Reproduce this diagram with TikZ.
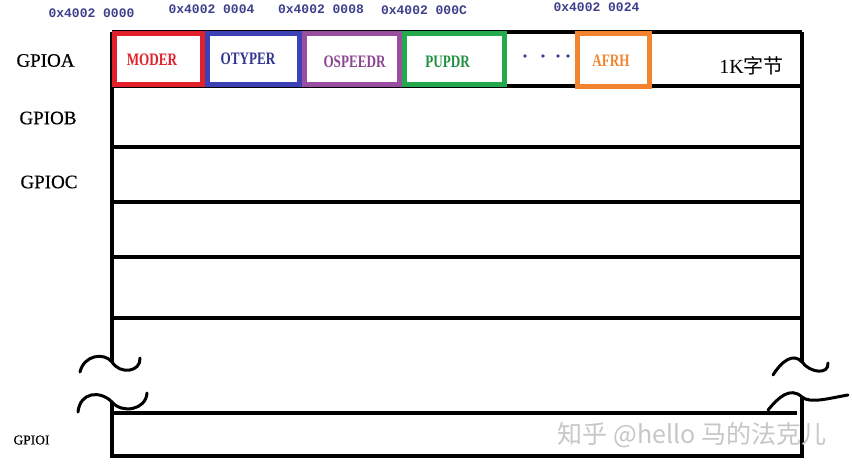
\documentclass[tikz,border=0pt]{standalone}
\usepackage{fontspec}
\setmainfont{Liberation Serif}
\newfontfamily\regfont[FakeStretch=0.75]{Liberation Serif}
\newfontfamily\portfont[FakeBold=0.6]{Liberation Serif}
\newfontfamily\hexfont{Liberation Mono}
\newfontfamily\cjkfont{Noto Sans CJK SC}
\usepackage{tikz}
\definecolor{ModRed}{RGB}{226,32,42}
\definecolor{OtyBlue}{RGB}{60,66,182}
\definecolor{OspPurple}{RGB}{154,78,160}
\definecolor{PupGreen}{RGB}{36,170,76}
\definecolor{AfrOrange}{RGB}{242,132,48}
\definecolor{AddrBlue}{RGB}{62,64,140}
\tikzset{
  wall/.style={draw=black, line width=4pt},
  regbox/.style={draw=#1, line width=5pt},
  regname/.style={inner sep=0pt, font=\regfont\bfseries\fontsize{17.5}{17.5}\selectfont},
  addr/.style={inner sep=0pt, text=AddrBlue, font=\hexfont\bfseries\fontsize{13}{13}\selectfont},
  port/.style={inner sep=0pt, font=\portfont\fontsize{19}{19}\selectfont},
  brk/.style={draw=black, line width=3pt, line cap=round},
  watermark/.style={inner sep=0pt, text=black!22, font=\cjkfont\fontsize{25}{25}\selectfont}
}

\begin{document}
\begin{tikzpicture}[x=1pt, y=-1pt]
  \useasboundingbox[fill=white] (0,0) rectangle (852,469);
  % corners of the GPIO block
  \coordinate (TL) at (112,32);
  \coordinate (TR) at (802,32);
  \coordinate (BL) at (112,362);
  \coordinate (BR) at (802,362);
  \draw[wall] (TL)--(TR);
  \draw[wall] (TL)--(BL);
  \draw[wall] (TR)--(BR);
  \foreach \y in {86,147,202,257,318}
    \draw[wall] (112,\y)--(802,\y);

  % registers of GPIOA
  \draw[regbox=ModRed] (114.5,33.5) rectangle (202.5,84);
  \draw[regbox=OtyBlue] (207.5,33.5) rectangle (299.5,84);
  \draw[regbox=OspPurple] (304.5,33.5) rectangle (399.5,84);
  \draw[regbox=PupGreen] (404.5,33.5) rectangle (504.5,84);
  \draw[regbox=AfrOrange] (577.5,33.5) rectangle (649.5,86);
  \node[regname, text=ModRed] (moder) at (152,60) {MODER};
  \node[regname, text=OtyBlue!80!black] (otyper) at (248,59) {OTYPER};
  \node[regname, text=OspPurple!90!black] (ospeedr) at (354.5,61.5) {OSPEEDR};
  \node[regname, text=PupGreen!85!black] (pupdr) at (447.5,61.5) {PUPDR};
  \node[regname, text=AfrOrange] (afrh) at (611,60.5) {AFRH};
  \foreach \x in {525,543,558,568}
    \fill[AddrBlue] (\x,56) circle (1.8);
  \node[port, font=\fontsize{20}{20}\selectfont] (size) at (751.5,66) {1K{\cjkfont 字节}};

  % base addresses
  \node[addr] (a0000) at (91.5,13) {0x4002 0000};
  \node[addr] (a0004) at (211.5,9.5) {0x4002 0004};
  \node[addr] (a0008) at (321,9.5) {0x4002 0008};
  \node[addr] (a000C) at (424,10) {0x4002 000C};
  \node[addr] (a0024) at (596.5,7.5) {0x4002 0024};

  % port names
  \node[port] (gpioa) at (45.5,60.5) {GPIOA};
  \node[port] (gpiob) at (48,118) {GPIOB};
  \node[port] (gpioc) at (49,182) {GPIOC};
  \node[port, font=\portfont\fontsize{13.5}{13.5}\selectfont] (gpioi) at (31.5,440) {GPIOI};

  % break marks
  \draw[brk] (80,372) .. controls (84,355) and (104,352) .. (BL)
    .. controls (120,375) and (141,372) .. (140,358);
  \draw[brk] (78,412) .. controls (80,392) and (100,390) .. (112,402)
    .. controls (122,414) and (146,410) .. (147,393);
  \draw[brk] (773,375) .. controls (781,362) and (793,352) .. (BR)
    .. controls (810,373) and (829,375) .. (828,363);
  \draw[brk] (768,410) .. controls (778,398) and (790,386) .. (802,397)
    .. controls (810,404) and (830,398) .. (848,395);

  % GPIOI block
  \draw[wall] (112,402)--(112,456)--(802,456)--(802,397);
  \draw[wall] (112,413)--(797,413);
  \node[watermark] (mark) at (692,435) {知乎 @hello 马的法克儿};
\end{tikzpicture}
\end{document}
